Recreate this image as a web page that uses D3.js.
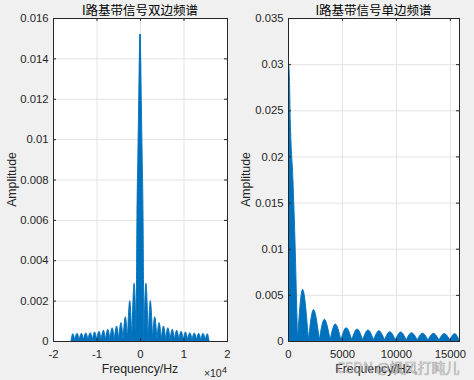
<!DOCTYPE html>
<html>
<head>
<meta charset="utf-8">
<script src="https://cdn.jsdelivr.net/npm/d3@7"></script>
<style>
  body { margin: 0; background: #f0f0f0; }
  svg { display: block; font-family: "Liberation Sans", Arial, sans-serif; }
</style>
</head>
<body>
<svg id="chart" width="474" height="380"></svg>
<script>
// side-lobe nulls and peaks (Hz), same for both spectra
const nullHz = [880, 1890, 2900, 3900, 4900, 5910, 6920, 7930, 8940, 9950, 10960, 11970, 12980, 13990, 15000, 15850];
const lobeHz = [1350, 2360, 3370, 4380, 5390, 6400, 7410, 8420, 9430, 10440, 11450, 12460, 13470, 14480, 15450];

// two-sided spectrum (mirrored around 0)
const leftMainHz = [0, 150, 300, 500, 700];
const leftMainAmp = [0.0152, 0.0141, 0.0119, 0.0091, 0.0062];
const leftLobeAmp = [0.00286, 0.002, 0.0012, 0.00091, 0.00074, 0.00066, 0.00058, 0.00053, 0.00048, 0.00045, 0.00041, 0.0004, 0.00038, 0.00038, 0.00036];
const leftFloor = 0.00006;

// single-sided spectrum
const rightMainHz = [0, 120, 210, 460, 670, 800];
const rightMainAmp = [0.0305, 0.029, 0.024, 0.0174, 0.0099, 0.004];
const rightLobeAmp = [0.0056, 0.0034, 0.00235, 0.00184, 0.00144, 0.0013, 0.00119, 0.00112, 0.00101, 0.00098, 0.0009, 0.00085, 0.00083, 0.0008, 0.0008];
const rightFloor = 0.00012;

// ticks
const leftXTicks = [-20000, -10000, 0, 10000, 20000];
const leftXLabels = ["-2", "-1", "0", "1", "2"];
const leftYTicks = [0, 0.002, 0.004, 0.006, 0.008, 0.01, 0.012, 0.014, 0.016];
const leftYLabels = ["0", "0.002", "0.004", "0.006", "0.008", "0.01", "0.012", "0.014", "0.016"];
const rightXTicks = [0, 5000, 10000, 15000];
const rightXLabels = ["0", "5000", "10000", "15000"];
const rightYTicks = [0, 0.005, 0.01, 0.015, 0.02, 0.025, 0.03, 0.035];
const rightYLabels = ["0", "0.005", "0.01", "0.015", "0.02", "0.025", "0.03", "0.035"];

const blue = "#0072bd";
const ink = "#262626";
const svg = d3.select("#chart");
svg.append("rect").attr("width", 474).attr("height", 380).attr("fill", "#f0f0f0");

/* one array of [Hz, amp] per lobe */
function lobes(mainHz, mainAmp, lobeAmp, floor) {
  let main = mainHz.map((f, i) => [f, mainAmp[i]]);
  main.push([nullHz[0], floor]);
  let out = [main];
  lobeHz.forEach((f, i) => {
    out.push([[nullHz[i], floor], [f, lobeAmp[i]], [nullHz[i + 1], floor]]);
  });
  return out;
}

function mirror(list) {
  let neg = list.map(l => l.map(d => [-d[0], d[1]]).reverse());
  return neg.concat(list);
}

function panel(c) {
  let x = d3.scaleLinear().domain(c.xDomain).range([c.left, c.right]);
  let y = d3.scaleLinear().domain(c.yDomain).range([c.bottom, c.top]);
  let h = c.bottom - c.top;
  let g = svg.append("g");

  g.append("rect")
    .attr("x", c.left).attr("y", c.top)
    .attr("width", c.right - c.left).attr("height", h)
    .attr("fill", "#fff");

  /* grid */
  g.append("g")
    .attr("transform", `translate(0,${c.bottom})`)
    .call(d3.axisBottom(x).tickValues(c.xTicks).tickSize(-h).tickFormat(""))
    .call(a => a.select(".domain").remove())
    .selectAll("line").attr("stroke", "#e3e3e3");
  g.append("g")
    .attr("transform", `translate(${c.left},0)`)
    .call(d3.axisLeft(y).tickValues(c.yTicks).tickSize(-(c.right - c.left)).tickFormat(""))
    .call(a => a.select(".domain").remove())
    .selectAll("line").attr("stroke", "#e3e3e3");

  /* spectrum */
  g.append("clipPath").attr("id", c.id)
    .append("rect")
    .attr("x", c.left).attr("y", c.top)
    .attr("width", c.right - c.left).attr("height", h);

  let area = d3.area()
    .x(d => x(d[0]))
    .y0(y(0))
    .y1(d => y(d[1]))
    .curve(d3.curveMonotoneX);

  g.append("g")
    .attr("clip-path", `url(#${c.id})`)
    .selectAll("path")
    .data(c.lobes)
    .join("path")
    .attr("d", area)
    .attr("fill", blue)
    .attr("stroke", blue)
    .attr("stroke-width", 0.9);

  /* axes, ticks inside */
  let bottom = g.append("g")
    .attr("transform", `translate(0,${c.bottom})`)
    .call(d3.axisBottom(x).tickValues(c.xTicks).tickSize(-3).tickSizeOuter(0)
      .tickPadding(9).tickFormat((d, i) => c.xLabels[i]));
  let left = g.append("g")
    .attr("transform", `translate(${c.left},0)`)
    .call(d3.axisLeft(y).tickValues(c.yTicks).tickSize(-3).tickSizeOuter(0)
      .tickPadding(4.5).tickFormat((d, i) => c.yLabels[i]));
  let top = g.append("g")
    .attr("transform", `translate(0,${c.top})`)
    .call(d3.axisTop(x).tickValues(c.xTicks).tickSize(-3).tickSizeOuter(0).tickFormat(""));
  let right = g.append("g")
    .attr("transform", `translate(${c.right},0)`)
    .call(d3.axisRight(y).tickValues(c.yTicks).tickSize(-3).tickSizeOuter(0).tickFormat(""));

  [bottom, left, top, right].forEach(a => {
    a.select(".domain").remove();
    a.selectAll("line").attr("stroke", ink);
    a.selectAll("text")
      .attr("fill", ink)
      .style("font-family", '"Liberation Sans", Arial, sans-serif')
      .style("font-size", "11.3px");
  });

  g.append("rect")
    .attr("x", c.left + 0.5).attr("y", c.top + 0.5)
    .attr("width", c.right - c.left).attr("height", h)
    .attr("fill", "none")
    .attr("stroke", ink)
    .attr("stroke-width", 1);

  /* labels */
  let cx = (c.left + c.right) / 2;
  g.append("text")
    .attr("x", cx).attr("y", 14.5)
    .attr("text-anchor", "middle")
    .style("font-family", '"Noto Sans CJK SC", sans-serif')
    .style("font-size", "12.5px")
    .attr("fill", "#000")
    .text(c.title);

  g.append("text")
    .attr("x", cx).attr("y", 373)
    .attr("text-anchor", "middle")
    .style("font-size", "12.3px")
    .attr("fill", ink)
    .text("Frequency/Hz");

  g.append("text")
    .attr("transform", `translate(${c.yLabelX},${(c.top + c.bottom) / 2}) rotate(-90)`)
    .attr("text-anchor", "middle")
    .style("font-size", "12.3px")
    .attr("fill", ink)
    .text("Amplitude");

  return g;
}

let rightLobes = lobes(rightMainHz, rightMainAmp, rightLobeAmp, rightFloor);
let leftLobes = mirror(lobes(leftMainHz, leftMainAmp, leftLobeAmp, leftFloor));

let leftPanel = panel({
  id: "clipL", title: "I路基带信号双边频谱",
  left: 53, right: 227, top: 18, bottom: 341,
  xDomain: [-20000, 20000], yDomain: [0, 0.016],
  xTicks: leftXTicks, xLabels: leftXLabels,
  yTicks: leftYTicks, yLabels: leftYLabels,
  yLabelX: 16, lobes: leftLobes
});

// exponent label under the left x axis
let expo = leftPanel.append("text")
  .attr("x", 227).attr("y", 377)
  .attr("text-anchor", "end")
  .attr("fill", ink)
  .style("font-size", "10.5px");
expo.append("tspan").text("×10");
expo.append("tspan").attr("dy", -4.5).style("font-size", "9.5px").text("4");

panel({
  id: "clipR", title: "I路基带信号单边频谱",
  left: 288, right: 459, top: 18, bottom: 341,
  xDomain: [0, 15850], yDomain: [0, 0.035],
  xTicks: rightXTicks, xLabels: rightXLabels,
  yTicks: rightYTicks, yLabels: rightYLabels,
  yLabelX: 250, lobes: rightLobes
});

// watermark
svg.append("text")
  .attr("x", 398).attr("y", 373)
  .attr("text-anchor", "middle")
  .style("font-family", '"Noto Sans CJK SC", sans-serif')
  .style("font-size", "14px")
  .attr("fill", "rgba(255,255,255,0.55)")
  .attr("stroke", "rgba(80,80,80,0.45)")
  .attr("stroke-width", 0.7)
  .text("CSDN @飒风打盹儿");
</script>
</body>
</html>
